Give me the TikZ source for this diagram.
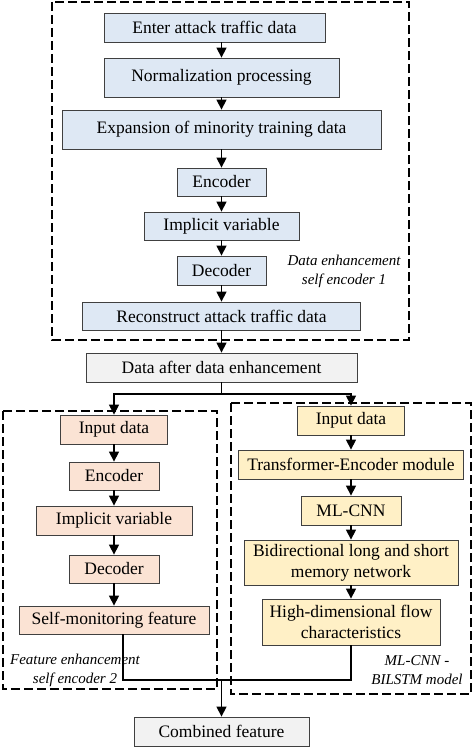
\documentclass[tikz,border=0pt]{standalone}
\usepackage{fontspec}
\setmainfont{Liberation Serif}
\usetikzlibrary{arrows.meta}
\definecolor{blueF}{HTML}{DEE8F4}
\definecolor{peachF}{HTML}{FBE3D4}
\definecolor{yellowF}{HTML}{FFF0C6}
\definecolor{grayF}{HTML}{F2F2F2}
\begin{document}
\begin{tikzpicture}[x=1pt,y=-1pt]
	\tikzstyle{blk} = [rectangle, draw=black!75, line width=0.8pt, inner sep=2pt, font=\fontsize{17.5}{21}\selectfont, align=center]
	\tikzstyle{blk_a} = [blk, fill=blueF]
	\tikzstyle{blk_b} = [blk, fill=peachF]
	\tikzstyle{blk_c} = [blk, fill=yellowF]
	\tikzstyle{blk_d} = [blk, fill=grayF]
	\tikzstyle{group} = [line width=1.3pt, dash pattern=on 9pt off 4pt]
	\tikzstyle{group_label} = [font=\fontsize{15}{19}\selectfont\itshape, align=center]
	\tikzstyle{edge} = [line width=1.3pt, -{Triangle[length=10pt,width=10pt]}]
	\tikzstyle{line} = [line width=1.3pt]
	\def\colL{114}
	\def\colM{221.5}
	\def\colR{351}

	\useasboundingbox (0,0) rectangle (474,752);

	%data enhancement self encoder 1
	\node[blk_a, minimum width=221, minimum height=29] (enter) at (214.5,27.5) {Enter attack traffic data};
	\foreach \name/\y/\w/\h/\txt in {norm/77.5/235/39/{Normalization processing}, expand/129.5/319/39/{Expansion of minority training data}, enc_a/182/89/28/{Encoder}, impl_a/226/155/28/{Implicit variable}, dec_a/270.5/89/29/{Decoder}, recon/316/278/28/{Reconstruct attack traffic data}}
		\node[blk_a, minimum width=\w, minimum height=\h] (\name) at (\colM,\y) {\txt};

	\node[blk_d, minimum width=271, minimum height=29] (after) at (\colM,367.5) {Data after data enhancement};

	\draw[edge] (enter.south -| norm.north) -- (norm.north);
	\foreach \from/\to in {norm/expand, expand/enc_a, enc_a/impl_a, impl_a/dec_a, dec_a/recon, recon/after}
		\draw[edge] (\from) -- (\to);

	%feature enhancement self encoder 2
	\foreach \name/\y/\w/\h/\txt in {in_b/429.5/107/29/{Input data}, enc_b/476/90/28/{Encoder}, impl_b/520.5/156/29/{Implicit variable}, dec_b/569/90/28/{Decoder}, self/620/190/28/{Self-monitoring feature}}
		\node[blk_b, minimum width=\w, minimum height=\h] (\name) at (\colL,\y) {\txt};

	%ML-CNN - BILSTM
	\foreach \name/\y/\w/\h/\txt in {in_c/420.5/107/29/{Input data}, trans/464.5/225/29/{Transformer-Encoder module}, mlcnn/510.5/100/29/{ML-CNN}, bilstm/562.5/214/45/{Bidirectional long and short\\memory network}, high/622/178/46/{High-dimensional flow\\characteristics}}
		\node[blk_c, minimum width=\w, minimum height=\h] (\name) at (\colR,\y) {\txt};

	\foreach \from/\to in {in_b/enc_b, enc_b/impl_b, impl_b/dec_b, dec_b/self, in_c/trans, trans/mlcnn, mlcnn/bilstm, bilstm/high}
		\draw[edge] (\from) -- (\to);

	\node[blk_d, minimum width=175, minimum height=29] (comb) at (\colM,731.5) {Combined feature};

	\coordinate (fork) at (\colM,394);
	\coordinate (join) at (\colM,680);
	\draw[line] (after) -- (fork);
	\draw[edge] (fork) -| (in_b);
	\draw[edge] (fork) -| (in_c);
	\draw[line] ([xshift=9pt]self.south) |- (join);
	\draw[line] (high) |- (join);
	\draw[edge] (join) -- (comb);

	\draw[group] (52,2) rectangle (409,340);
	\draw[group] (3,411) rectangle (217,689);
	\draw[group] (231,403) rectangle (471,694);

	\node[group_label] (lab_a) at (344,271) {Data enhancement\\self encoder 1};
	\node[group_label] (lab_b) at (75,670) {Feature enhancement\\self encoder 2};
	\node[group_label] (lab_c) at (417,670) {ML-CNN -\\BILSTM model};

\end{tikzpicture}
\end{document}
